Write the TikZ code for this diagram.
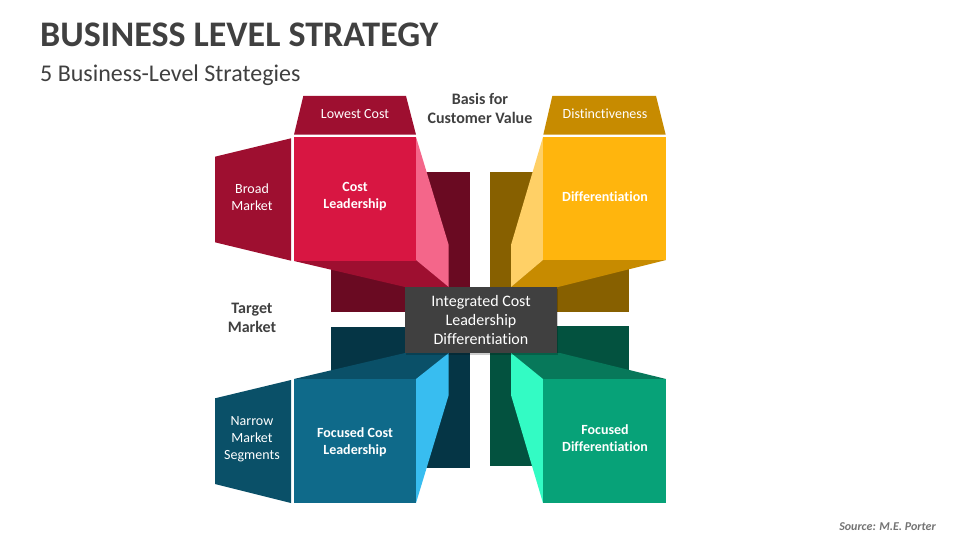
\documentclass[tikz,border=0pt]{standalone}
\usepackage{fontspec}
\setmainfont{Carlito}[Ligatures=NoCommon]
\usepackage{xcolor}
\usetikzlibrary{shadows}
\definecolor{redBack}{HTML}{6A0A22}
\definecolor{redDark}{HTML}{9E0F30}
\definecolor{redFront}{HTML}{D81642}
\definecolor{redSide}{HTML}{F4668A}
\definecolor{amberBack}{HTML}{876000}
\definecolor{amberDark}{HTML}{C78B00}
\definecolor{amberFront}{HTML}{FFB50D}
\definecolor{amberSide}{HTML}{FFD066}
\definecolor{blueBack}{HTML}{053545}
\definecolor{blueDark}{HTML}{0A5068}
\definecolor{blueFront}{HTML}{0F6A8A}
\definecolor{blueSide}{HTML}{38BDF0}
\definecolor{greenBack}{HTML}{03523F}
\definecolor{greenDark}{HTML}{07785A}
\definecolor{greenFront}{HTML}{07A278}
\definecolor{greenSide}{HTML}{33FBC4}
\definecolor{inkGrey}{HTML}{404040}
\tikzset{
    faceLabel/.style={text=white, align=center, font=\fontsize{14}{17}\selectfont},
    frontLabel/.style={text=white, align=center, font=\fontsize{14}{17}\selectfont\bfseries},
    axisLabel/.style={text=inkGrey, align=center, font=\fontsize{16}{19}\selectfont\bfseries}
}
\begin{document}
\begin{tikzpicture}[x=1pt, y=-1pt]
    \useasboundingbox (0,0) rectangle (960,540);

    % back squares
    \fill[redBack] (331,172) rectangle (470,312);
    \fill[amberBack] (490,172) rectangle (629,312);
    \fill[blueBack] (331,327) rectangle (470,468);
    \fill[greenBack] (490,326) rectangle (629,466);

    % cost leadership block
    \fill[redDark] (303.3,96) -- (406,96) -- (416,134.7) -- (294,134.7) -- cycle;
    \fill[redDark] (215,156.7) -- (291,138.3) -- (291,260.7) -- (215,242.3) -- cycle;
    \fill[redDark] (294,261) -- (416,260) -- (448.7,287) -- (405,287) -- cycle;
    \fill[redSide] (416,137) -- (448.7,245) -- (448.7,287) -- (416,260) -- cycle;
    \fill[redFront] (294,137) rectangle (416,261);

    % differentiation block
    \fill[amberDark] (552.3,96) -- (656,96) -- (665.7,134.7) -- (543.3,134.7) -- cycle;
    \fill[amberDark] (543,260) -- (666,260) -- (558,287) -- (511,287) -- cycle;
    \fill[amberSide] (543,137) -- (511,245) -- (511,287) -- (543,260) -- cycle;
    \fill[amberFront] (543,137) rectangle (666,260);

    % focused cost leadership block
    \fill[blueDark] (215,398.3) -- (291,380) -- (291,503) -- (215,484) -- cycle;
    \fill[blueDark] (294,379) -- (416,379) -- (448.7,353) -- (405,353) -- cycle;
    \fill[blueSide] (416,379) -- (448.7,353) -- (448.7,395) -- (416,503) -- cycle;
    \fill[blueFront] (294,379) rectangle (416,503);

    % focused differentiation block
    \fill[greenDark] (543,379) -- (666,379) -- (560,353) -- (511,353) -- cycle;
    \fill[greenSide] (543,379) -- (511,353) -- (511,395) -- (543,503) -- cycle;
    \fill[greenFront] (543,379) rectangle (666,503);

    % centre
    \node[fill=inkGrey, minimum width=152pt, minimum height=66pt, inner sep=0pt,
        drop shadow={shadow xshift=1pt, shadow yshift=-1.5pt, opacity=0.2, fill=black},
        text=white, align=center, font=\fontsize{16}{19}\selectfont] (centre) at (481,320)
        {Integrated Cost\\Leadership\\Differentiation};

    % title
    \node[anchor=west, inner sep=0pt, text=inkGrey, font=\fontsize{36}{40}\selectfont\bfseries] (title) at (40,35) {BUSINESS LEVEL STRATEGY};
    \node[anchor=west, inner sep=0pt, text=inkGrey, font=\fontsize{24}{28}\selectfont] (subtitle) at (40,75) {5 Business-Level Strategies};
    \node[anchor=east, inner sep=0pt, text=black!55, font=\fontsize{12}{14}\selectfont\bfseries\itshape] (source) at (936,527) {Source: M.E. Porter};

    % labels
    \node[axisLabel] (basis) at (480,108.5) {Basis for\\Customer Value};
    \node[axisLabel] (target) at (252,318) {Target\\Market};
    \node[faceLabel] (lowest) at (355,114) {Lowest Cost};
    \node[faceLabel] (distinct) at (605,114) {Distinctiveness};
    \node[faceLabel] (broad) at (252,197) {Broad\\Market};
    \node[faceLabel] (narrow) at (252,439.5) {Narrow\\Market\\Segments};
    \node[frontLabel] (cost) at (355,197) {Cost\\Leadership};
    \node[frontLabel] (diff) at (605,197) {Differentiation};
    \node[frontLabel] (focCost) at (355,442) {Focused Cost\\Leadership};
    \node[frontLabel] (focDiff) at (605,438) {Focused\\Differentiation};
\end{tikzpicture}
\end{document}
